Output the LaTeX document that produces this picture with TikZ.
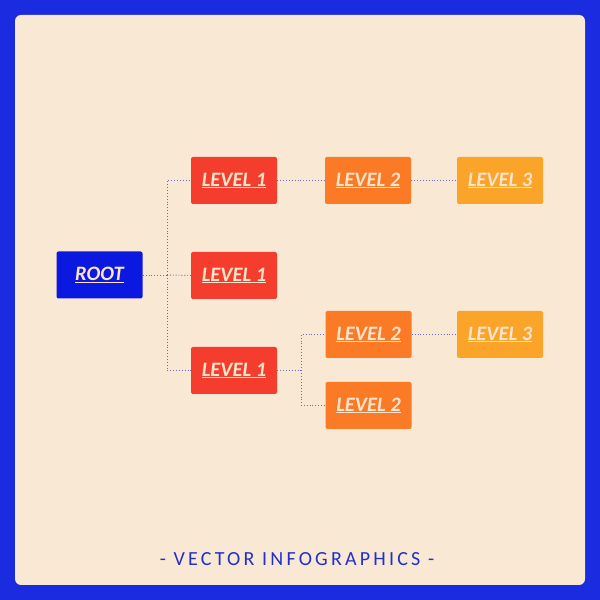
\documentclass[tikz,border=0pt]{standalone}
\usepackage{fontspec}
\setmainfont{Carlito}
\usepackage{xcolor}
\usepackage{tikz}
\usetikzlibrary{positioning,calc}
\definecolor{frameblue}{HTML}{1A2BE0}
\definecolor{paper}{HTML}{F9E8D3}
\definecolor{rootblue}{HTML}{0B18E0}
\definecolor{lvlone}{HTML}{F43D2C}
\definecolor{lvltwo}{HTML}{FB7A25}
\definecolor{lvlthree}{HTML}{FBA42A}
\definecolor{boxtext}{HTML}{FCE4CC}
\definecolor{wirecolor}{HTML}{6A6AC0}
\definecolor{captionblue}{HTML}{2230C8}
\tikzset{
  box/.style={
     rounded corners=2pt,
     minimum width=86pt,
     minimum height=47pt,
     inner sep=0pt,
     text=boxtext,
     font=\fontsize{20.5}{20.5}\selectfont\bfseries\itshape
  },
  root box/.style={box, fill=rootblue},
  level one/.style={box, fill=lvlone},
  level two/.style={box, fill=lvltwo},
  level three/.style={box, fill=lvlthree},
  wire/.style={
     draw=wirecolor,
     dotted,
     line width=0.9pt
  },
}
\newcommand{\boxlabel}[1]{\underline{#1}}
\begin{document}
\begin{tikzpicture}[x=1pt,y=1pt]
        % Frame and panel
        \fill[frameblue] (0,0) rectangle (600,600);
        \fill[paper, rounded corners=6pt] (15,15) rectangle (585,585);
        \useasboundingbox (0,0) rectangle (600,600);
        
        % Boxes
        \node[root box] (root) at (99.5,325) {\boxlabel{ROOT}};
        \node[level one] (one a) at (234,419.5) {\boxlabel{LEVEL 1}};
        \node[level one] (one b) at (234,324.5) {\boxlabel{LEVEL 1}};
        \node[level one] (one c) at (234,229.5) {\boxlabel{LEVEL 1}};
        \node[level two] (two a) at (368,419.5) {\boxlabel{LEVEL 2}};
        \node[level two] (two b) at (368.5,265.5) {\boxlabel{LEVEL 2}};
        \node[level two] (two c) at (368.5,194.5) {\boxlabel{LEVEL 2}};
        \node[level three] (three a) at (500,419.5) {\boxlabel{LEVEL 3}};
        \node[level three] (three b) at (500,265.5) {\boxlabel{LEVEL 3}};
        
        % Forks
        \coordinate (fork root) at (167,325);
        \coordinate (fork one) at (301,229.5);
        
        % Connectors
        \draw[wire] (root.east) -- (fork root);
        \draw[wire] (fork root) |- (one a.west);
        \draw[wire] (fork root) -- (one b.west);
        \draw[wire] (fork root) |- (one c.west);
        \draw[wire] (one a.east) -- (two a.west);
        \draw[wire] (two a.east) -- (three a.west);
        \draw[wire] (one c.east) -- (fork one);
        \draw[wire] (fork one) |- (two b.west);
        \draw[wire] (fork one) |- (two c.west);
        \draw[wire] (two b.east) -- (three b.west);
        
        % Caption
        \node[text=captionblue, font=\fontsize{20}{20}\selectfont\addfontfeature{LetterSpace=16}] (caption) at (297,41) {- VECTOR INFOGRAPHICS -};
    \end{tikzpicture}
\end{document}
